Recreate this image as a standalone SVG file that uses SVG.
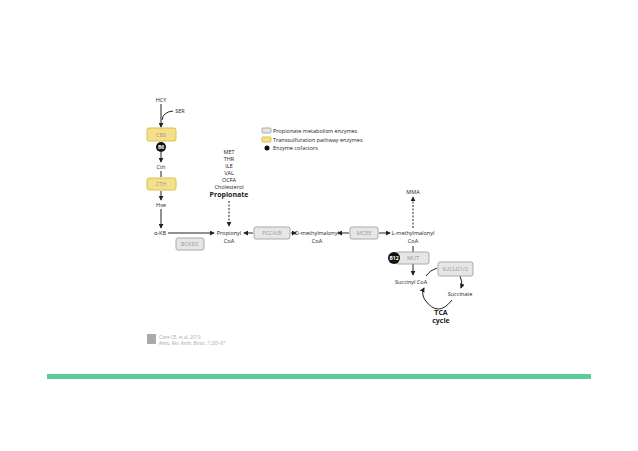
<svg xmlns="http://www.w3.org/2000/svg" width="638" height="451" viewBox="0 0 638 451">
<style>
text{font-family:"Open Sans","Liberation Sans",sans-serif;font-size:5.5px;fill:#222;text-anchor:middle}
.g{fill:#e6e6e6;stroke:#aaa;stroke-width:1}
.y{fill:#f5e08a;stroke:#d8c050;stroke-width:1}
.bt{fill:#999;font-size:5.5px}
.ln{stroke:#222;stroke-width:1;fill:none}
.d{stroke-dasharray:2,1.5}
</style>
<defs><marker id="a" viewBox="0 0 6 6" refX="5" refY="3" markerWidth="5" markerHeight="5" orient="auto"><path d="M0,0L6,3L0,6z" fill="#222"/></marker></defs>
<rect width="638" height="451" fill="#fff"/>
<g id="connectors">
<path class="ln" d="M161,104V127" marker-end="url(#a)"/>
<path class="ln" d="M173,111Q163,112 162,120"/>
<path class="ln" d="M161,152V162" marker-end="url(#a)"/>
<path class="ln" d="M161,171V177"/>
<path class="ln" d="M161,191V200" marker-end="url(#a)"/>
<path class="ln" d="M161,209V228" marker-end="url(#a)"/>
<path class="ln" d="M168,233H214" marker-end="url(#a)"/>
<path class="ln d" d="M229,201V226" marker-end="url(#a)"/>
<path class="ln" d="M253,233H244" marker-end="url(#a)"/>
<path class="ln" d="M291,233H296" marker-end="url(#a)"/>
<path class="ln" d="M349,233H338" marker-end="url(#a)"/>
<path class="ln" d="M379,233H390" marker-end="url(#a)"/>
<path class="ln d" d="M413,228V197" marker-end="url(#a)"/>
<path class="ln" d="M413,246V252"/>
<path class="ln" d="M413,264V275" marker-end="url(#a)"/>
<path class="ln" d="M460,276Q463,282 461,288" marker-end="url(#a)"/>
<path class="ln" d="M452,300Q438,318 425,300Q421,294 424,288" marker-end="url(#a)"/>
<path class="ln" d="M437,268Q430,270 426,276"/>
</g>
<g id="HCY"><text x="161" y="102">HCY</text></g>
<g id="SER"><text x="180" y="113">SER</text></g>
<g id="CBS"><rect class="y" x="147" y="128" width="29" height="13" rx="2"/><text class="bt" x="161" y="137">CBS</text></g>
<g id="B6"><circle cx="161" cy="147" r="5" fill="#111"/><text x="161" y="149" style="fill:#fff;font-size:5px;font-weight:bold">B6</text></g>
<g id="Cth"><text x="161" y="169">Cth</text></g>
<g id="CTH"><rect class="y" x="147" y="178" width="29" height="12" rx="2"/><text class="bt" x="161" y="186">CTH</text></g>
<g id="Hse"><text x="161" y="207">Hse</text></g>
<g id="aKB"><text x="160" y="235">α-KB</text></g>
<g id="BCKDC"><rect class="g" x="176" y="238" width="28" height="12" rx="2"/><text class="bt" x="190" y="246">BCKDC</text></g>
<g id="sources"><text x="229" y="154">MET</text><text x="229" y="161">THR</text><text x="229" y="168">ILE</text><text x="229" y="175">VAL</text><text x="229" y="182">OCFA</text><text x="229" y="189">Cholesterol</text><text x="229" y="197" style="font-weight:bold;font-size:7px">Propionate</text></g>
<g id="PropionylCoA"><text x="229" y="235">Propionyl</text><text x="229" y="243">CoA</text></g>
<g id="PCCAB"><rect class="g" x="254" y="227" width="36" height="12" rx="2"/><text class="bt" x="272" y="235">PCCA/B</text></g>
<g id="DMM"><text x="317" y="235">D-methylmalonyl</text><text x="317" y="243">CoA</text></g>
<g id="MCEE"><rect class="g" x="350" y="227" width="28" height="12" rx="2"/><text class="bt" x="364" y="235">MCEE</text></g>
<g id="LMM"><text x="413" y="235">L-methylmalonyl</text><text x="413" y="243">CoA</text></g>
<g id="MMA"><text x="413" y="194">MMA</text></g>
<g id="MUT"><rect class="g" x="396" y="252" width="33" height="12" rx="2"/><text class="bt" x="413" y="260">MUT</text></g>
<g id="B12"><circle cx="394" cy="258" r="6" fill="#111"/><text x="394" y="260" style="fill:#fff;font-size:5px;font-weight:bold">B12</text></g>
<g id="SuccinylCoA"><text x="411" y="284">Succinyl CoA</text></g>
<g id="SUCLG"><rect class="g" x="438" y="262" width="35" height="14" rx="2"/><text class="bt" x="455" y="271">SUCLG1/2</text></g>
<g id="Succinate"><text x="460" y="296">Succinate</text></g>
<g id="TCA"><text x="441" y="315" style="font-weight:bold;font-size:7px">TCA</text><text x="441" y="323" style="font-weight:bold;font-size:7px">cycle</text></g>
<g id="legend">
<rect class="g" x="262" y="128" width="9" height="5" rx="1"/><text x="273" y="133" style="text-anchor:start">Propionate metabolism enzymes</text>
<rect class="y" x="262" y="137" width="9" height="5" rx="1"/><text x="273" y="142" style="text-anchor:start">Transsulfuration pathway enzymes</text>
<circle cx="267" cy="148" r="2.5" fill="#111"/><text x="273" y="150" style="text-anchor:start">Enzyme cofactors</text>
</g>
<g id="citation"><rect x="147" y="334" width="9" height="10" fill="#aaa"/><text x="159" y="339" style="text-anchor:start;fill:#aaa;font-size:4.5px">Clare CE, et al. 2019.</text><text x="159" y="345" style="text-anchor:start;fill:#aaa;font-size:4.5px;font-style:italic">Annu. Rev. Anim. Biosci. 7:263–87</text></g>
<rect x="47" y="374" width="544" height="5" fill="#5dcb95"/>
</svg>
